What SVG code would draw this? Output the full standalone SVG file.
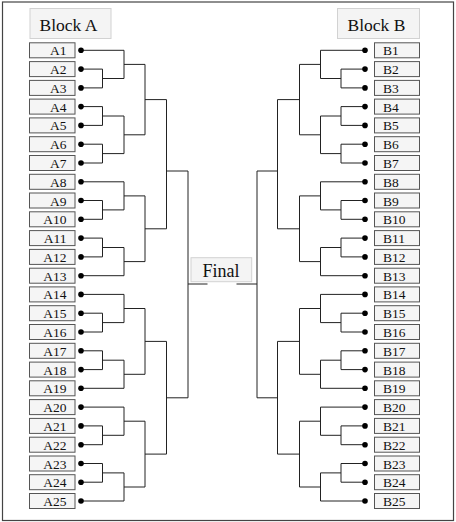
<svg xmlns="http://www.w3.org/2000/svg" width="456" height="522" viewBox="0 0 456 522">
<style>
.frame{fill:#fff;stroke:#444;stroke-width:1.2}
.title{fill:#f4f4f4;stroke:#d2d2d2;stroke-width:1}
.tt{font-family:"Liberation Serif","Times New Roman",serif;font-size:17.5px;fill:#111}
.box{fill:#f5f5f5;stroke:#555;stroke-width:1}
.lbl{font-family:"Liberation Serif","Times New Roman",serif;font-size:13.5px;fill:#111}
.a .lbl{text-anchor:end}
.dot{fill:#000}
.con path{fill:none;stroke:#222;stroke-width:1}
</style>
<rect class="frame" x="2.5" y="2" width="451" height="518.5"/>
<g id="connectors" class="con">
<path d="M81 69.1H102.5V87.9H81M81 106.6H102.5V125.4H81M81 144.2H102.5V163H81M81 200.5H102.5V219.3H81M81 238.1H102.5V256.9H81M81 313.2H102.5V332H81M81 350.8H102.5V369.6H81M81 425.9H102.5V444.7H81M81 463.5H102.5V482.2H81"/>
<path d="M81 50.3H124V78.5H102.5M102.5 116H124V153.6H102.5M81 181.8H124V209.9H102.5M102.5 247.5H124V275.7H81M81 294.4H124V322.6H102.5M102.5 360.2H124V388.3H81M81 407.1H124V435.3H102.5M102.5 472.9H124V501H81"/>
<path d="M124 64.4H145V134.8H124M124 195.9H145V261.6H124M124 308.5H145V374.3H124M124 421.2H145V487H124"/>
<path d="M145 99.6H166.5V228.8H145M145 341.4H166.5V454.1H145"/>
<path d="M166.5 171H188V397.8H166.5M188 284H207.5"/>
<path d="M365 69.1H341V87.9H365M365 106.6H341V125.4H365M365 144.2H341V163H365M365 200.5H341V219.3H365M365 238.1H341V256.9H365M365 313.2H341V332H365M365 350.8H341V369.6H365M365 425.9H341V444.7H365M365 463.5H341V482.2H365"/>
<path d="M365 50.3H320.5V78.5H341M341 116H320.5V153.6H341M365 181.8H320.5V209.9H341M341 247.5H320.5V275.7H365M365 294.4H320.5V322.6H341M341 360.2H320.5V388.3H365M365 407.1H320.5V435.3H341M341 472.9H320.5V501H365"/>
<path d="M320.5 64.4H299.5V134.8H320.5M320.5 195.9H299.5V261.6H320.5M320.5 308.5H299.5V374.3H320.5M320.5 421.2H299.5V487H320.5"/>
<path d="M299.5 99.6H277.5V228.8H299.5M299.5 341.4H277.5V454.1H299.5"/>
<path d="M277.5 171H257V397.8H277.5M257 284H236.5"/>
</g>
<g id="blockA"><rect class="title" x="30" y="8.5" width="81" height="30"/><text class="tt" x="39.5" y="30.7">Block A</text></g>
<g id="blockB"><rect class="title" x="337.5" y="8.5" width="82" height="30"/><text class="tt" x="347.5" y="30.7">Block B</text></g>
<g id="final"><rect class="title" x="191" y="257.7" width="60.7" height="24"/><text class="tt" x="202.5" y="277.3" style="font-size:18px">Final</text></g>
<defs>
<g id="la"><rect class="box" x="29.5" y="-7.5" width="45.5" height="15"/><circle class="dot" cx="81" cy="0" r="2.8"/></g>
<g id="lb"><rect class="box" x="374.5" y="-7.5" width="45" height="15"/><circle class="dot" cx="365" cy="0" r="2.8"/></g>
</defs>
<g class="a">
<g id="A1" transform="translate(0,50.3)"><use href="#la"/><text class="lbl" x="66.5" y="5">A1</text></g>
<g id="A2" transform="translate(0,69.1)"><use href="#la"/><text class="lbl" x="66.5" y="5">A2</text></g>
<g id="A3" transform="translate(0,87.9)"><use href="#la"/><text class="lbl" x="66.5" y="5">A3</text></g>
<g id="A4" transform="translate(0,106.6)"><use href="#la"/><text class="lbl" x="66.5" y="5">A4</text></g>
<g id="A5" transform="translate(0,125.4)"><use href="#la"/><text class="lbl" x="66.5" y="5">A5</text></g>
<g id="A6" transform="translate(0,144.2)"><use href="#la"/><text class="lbl" x="66.5" y="5">A6</text></g>
<g id="A7" transform="translate(0,163)"><use href="#la"/><text class="lbl" x="66.5" y="5">A7</text></g>
<g id="A8" transform="translate(0,181.8)"><use href="#la"/><text class="lbl" x="66.5" y="5">A8</text></g>
<g id="A9" transform="translate(0,200.5)"><use href="#la"/><text class="lbl" x="66.5" y="5">A9</text></g>
<g id="A10" transform="translate(0,219.3)"><use href="#la"/><text class="lbl" x="66.5" y="5">A10</text></g>
<g id="A11" transform="translate(0,238.1)"><use href="#la"/><text class="lbl" x="66.5" y="5">A11</text></g>
<g id="A12" transform="translate(0,256.9)"><use href="#la"/><text class="lbl" x="66.5" y="5">A12</text></g>
<g id="A13" transform="translate(0,275.7)"><use href="#la"/><text class="lbl" x="66.5" y="5">A13</text></g>
<g id="A14" transform="translate(0,294.4)"><use href="#la"/><text class="lbl" x="66.5" y="5">A14</text></g>
<g id="A15" transform="translate(0,313.2)"><use href="#la"/><text class="lbl" x="66.5" y="5">A15</text></g>
<g id="A16" transform="translate(0,332)"><use href="#la"/><text class="lbl" x="66.5" y="5">A16</text></g>
<g id="A17" transform="translate(0,350.8)"><use href="#la"/><text class="lbl" x="66.5" y="5">A17</text></g>
<g id="A18" transform="translate(0,369.6)"><use href="#la"/><text class="lbl" x="66.5" y="5">A18</text></g>
<g id="A19" transform="translate(0,388.3)"><use href="#la"/><text class="lbl" x="66.5" y="5">A19</text></g>
<g id="A20" transform="translate(0,407.1)"><use href="#la"/><text class="lbl" x="66.5" y="5">A20</text></g>
<g id="A21" transform="translate(0,425.9)"><use href="#la"/><text class="lbl" x="66.5" y="5">A21</text></g>
<g id="A22" transform="translate(0,444.7)"><use href="#la"/><text class="lbl" x="66.5" y="5">A22</text></g>
<g id="A23" transform="translate(0,463.5)"><use href="#la"/><text class="lbl" x="66.5" y="5">A23</text></g>
<g id="A24" transform="translate(0,482.2)"><use href="#la"/><text class="lbl" x="66.5" y="5">A24</text></g>
<g id="A25" transform="translate(0,501)"><use href="#la"/><text class="lbl" x="66.5" y="5">A25</text></g>
</g>
<g class="b">
<g id="B1" transform="translate(0,50.3)"><use href="#lb"/><text class="lbl" x="383" y="5">B1</text></g>
<g id="B2" transform="translate(0,69.1)"><use href="#lb"/><text class="lbl" x="383" y="5">B2</text></g>
<g id="B3" transform="translate(0,87.9)"><use href="#lb"/><text class="lbl" x="383" y="5">B3</text></g>
<g id="B4" transform="translate(0,106.6)"><use href="#lb"/><text class="lbl" x="383" y="5">B4</text></g>
<g id="B5" transform="translate(0,125.4)"><use href="#lb"/><text class="lbl" x="383" y="5">B5</text></g>
<g id="B6" transform="translate(0,144.2)"><use href="#lb"/><text class="lbl" x="383" y="5">B6</text></g>
<g id="B7" transform="translate(0,163)"><use href="#lb"/><text class="lbl" x="383" y="5">B7</text></g>
<g id="B8" transform="translate(0,181.8)"><use href="#lb"/><text class="lbl" x="383" y="5">B8</text></g>
<g id="B9" transform="translate(0,200.5)"><use href="#lb"/><text class="lbl" x="383" y="5">B9</text></g>
<g id="B10" transform="translate(0,219.3)"><use href="#lb"/><text class="lbl" x="383" y="5">B10</text></g>
<g id="B11" transform="translate(0,238.1)"><use href="#lb"/><text class="lbl" x="383" y="5">B11</text></g>
<g id="B12" transform="translate(0,256.9)"><use href="#lb"/><text class="lbl" x="383" y="5">B12</text></g>
<g id="B13" transform="translate(0,275.7)"><use href="#lb"/><text class="lbl" x="383" y="5">B13</text></g>
<g id="B14" transform="translate(0,294.4)"><use href="#lb"/><text class="lbl" x="383" y="5">B14</text></g>
<g id="B15" transform="translate(0,313.2)"><use href="#lb"/><text class="lbl" x="383" y="5">B15</text></g>
<g id="B16" transform="translate(0,332)"><use href="#lb"/><text class="lbl" x="383" y="5">B16</text></g>
<g id="B17" transform="translate(0,350.8)"><use href="#lb"/><text class="lbl" x="383" y="5">B17</text></g>
<g id="B18" transform="translate(0,369.6)"><use href="#lb"/><text class="lbl" x="383" y="5">B18</text></g>
<g id="B19" transform="translate(0,388.3)"><use href="#lb"/><text class="lbl" x="383" y="5">B19</text></g>
<g id="B20" transform="translate(0,407.1)"><use href="#lb"/><text class="lbl" x="383" y="5">B20</text></g>
<g id="B21" transform="translate(0,425.9)"><use href="#lb"/><text class="lbl" x="383" y="5">B21</text></g>
<g id="B22" transform="translate(0,444.7)"><use href="#lb"/><text class="lbl" x="383" y="5">B22</text></g>
<g id="B23" transform="translate(0,463.5)"><use href="#lb"/><text class="lbl" x="383" y="5">B23</text></g>
<g id="B24" transform="translate(0,482.2)"><use href="#lb"/><text class="lbl" x="383" y="5">B24</text></g>
<g id="B25" transform="translate(0,501)"><use href="#lb"/><text class="lbl" x="383" y="5">B25</text></g>
</g>
</svg>
